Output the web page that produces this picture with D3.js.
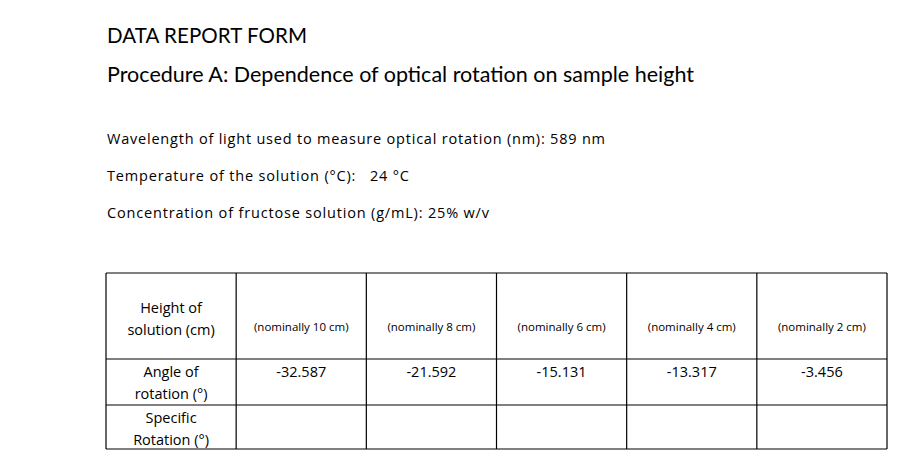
<!DOCTYPE html>
<html><head><meta charset="utf-8">
<script src="https://cdn.jsdelivr.net/npm/d3@7"></script>
<style>body{margin:0;background:#fff}</style></head>
<body><svg id="c" width="915" height="467"></svg>
<script>
const title = "DATA REPORT FORM";
const subtitle = "Procedure A: Dependence of optical rotation on sample height";
const infoLines = [
  "Wavelength of light used to measure optical rotation (nm): 589 nm",
  "Temperature of the solution (°C):   24 °C",
  "Concentration of fructose solution (g/mL): 25% w/v"
];
const rowLabels = [["Height of","solution (cm)"],["Angle of","rotation (°)"],["Specific","Rotation (°)"]];
const heights = ["(nominally 10 cm)","(nominally 8 cm)","(nominally 6 cm)","(nominally 4 cm)","(nominally 2 cm)"];
const angles = ["-32.587","-21.592","-15.131","-13.317","-3.456"];
const specific = ["","","","",""];

const svg = d3.select("#c");
const F = "Lato, 'Open Sans', sans-serif";
const O = "'Open Sans', sans-serif";
svg.append("text").attr("x",107).attr("y",43).attr("font-family",F).attr("font-size",20.5).attr("fill","#000").attr("textLength",200).text(title);
svg.append("text").attr("x",107).attr("y",82).attr("font-family",F).attr("font-size",21.5).attr("fill","#000").attr("textLength",587).text(subtitle);
const iy = d3.scalePoint().domain(d3.range(infoLines.length)).range([144,218]);
const iw = [498,302,382];
svg.selectAll(".info").data(infoLines).join("text").attr("x",107).attr("y",(d,i)=>iy(i))
  .attr("font-family",O).attr("font-size",14.5).attr("fill","#000").attr("textLength",(d,i)=>iw[i])
  .style("white-space","pre").text(d=>d);

const x = d3.scaleLinear().domain([0,6]).range([106,887]);
const rowsY = [273,359,405,449];
const g = svg.append("g").attr("stroke","#000").attr("stroke-width",1.2);
d3.range(7).forEach(i=>g.append("line").attr("x1",x(i)).attr("x2",x(i)).attr("y1",rowsY[0]).attr("y2",rowsY[3]));
rowsY.forEach(y=>g.append("line").attr("x1",x(0)).attr("x2",x(6)).attr("y1",y).attr("y2",y));

const lblY = [[313,335],[377,399],[423,445]];
rowLabels.forEach((lines,r)=>lines.forEach((t,k)=>svg.append("text").attr("x",(x(0)+x(1))/2).attr("y",lblY[r][k])
  .attr("text-anchor","middle").attr("font-family",O).attr("font-size",14.5).text(t)));
heights.forEach((t,i)=>svg.append("text").attr("x",(x(i+1)+x(i+2))/2).attr("y",331).attr("text-anchor","middle")
  .attr("font-family",O).attr("font-size",11.5).text(t));
angles.forEach((t,i)=>svg.append("text").attr("x",(x(i+1)+x(i+2))/2).attr("y",377).attr("text-anchor","middle")
  .attr("font-family",O).attr("font-size",14.5).text(t));
specific.forEach((t,i)=>svg.append("text").attr("x",(x(i+1)+x(i+2))/2).attr("y",423).attr("text-anchor","middle")
  .attr("font-family",O).attr("font-size",14.5).text(t));
</script></body></html>
